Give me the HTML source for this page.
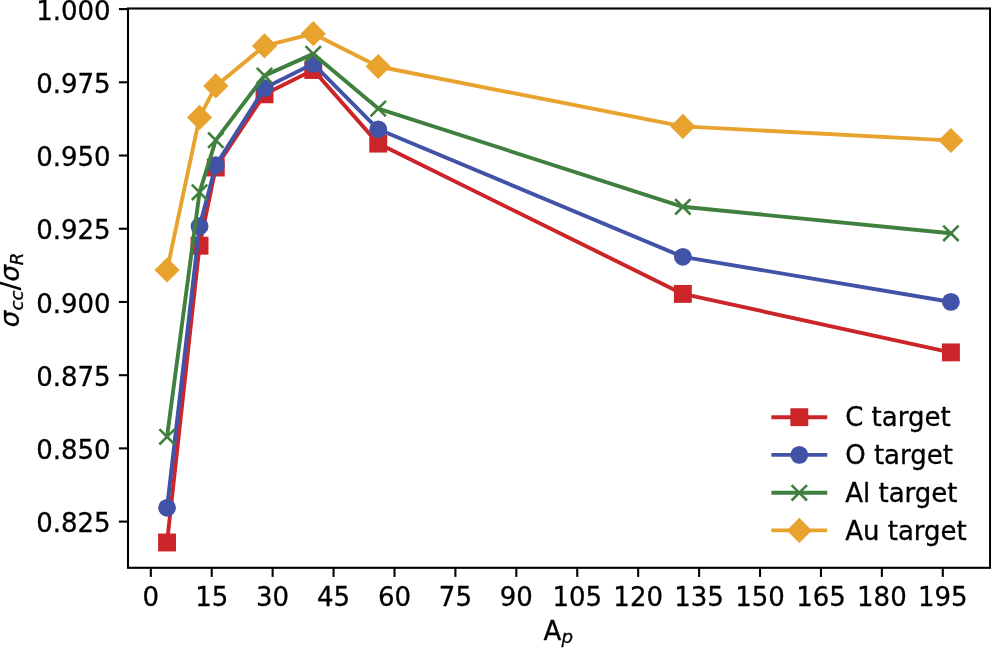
<!DOCTYPE html>
<html lang="en"><head><meta charset="utf-8"><title>sigma_cc / sigma_R vs A_p</title>
<style>html,body{margin:0;padding:0;background:#fff;overflow:hidden;}svg{display:block;}text{font-family:"DejaVu Sans", "Liberation Sans", sans-serif;fill:#000;stroke:#000;stroke-width:0.3px;}</style></head><body>
<svg width="991" height="648" viewBox="0 0 991 648">
<rect x="0" y="0" width="991" height="648" fill="#ffffff"/>
<defs><clipPath id="ax"><rect x="128.0" y="8.5" width="862.1" height="559.3"/></clipPath></defs>
<g clip-path="url(#ax)">
<polyline points="167.05,542.50 199.54,245.70 215.78,167.50 264.52,94.30 313.26,70.00 378.24,143.60 682.86,293.90 950.92,352.40" fill="none" stroke="#cc2529" stroke-width="3.9" stroke-linejoin="round" stroke-linecap="square"/>
<rect x="158.10" y="533.55" width="17.9" height="17.9" fill="#cc2529"/>
<rect x="190.59" y="236.75" width="17.9" height="17.9" fill="#cc2529"/>
<rect x="206.83" y="158.55" width="17.9" height="17.9" fill="#cc2529"/>
<rect x="255.57" y="85.35" width="17.9" height="17.9" fill="#cc2529"/>
<rect x="304.31" y="61.05" width="17.9" height="17.9" fill="#cc2529"/>
<rect x="369.29" y="134.65" width="17.9" height="17.9" fill="#cc2529"/>
<rect x="673.91" y="284.95" width="17.9" height="17.9" fill="#cc2529"/>
<rect x="941.97" y="343.45" width="17.9" height="17.9" fill="#cc2529"/>
<polyline points="167.05,507.80 199.54,226.20 215.78,165.20 264.52,88.10 313.26,63.80 378.24,129.30 682.86,256.80 950.92,301.90" fill="none" stroke="#4253a7" stroke-width="3.9" stroke-linejoin="round" stroke-linecap="square"/>
<circle cx="167.05" cy="507.80" r="8.9" fill="#4253a7"/>
<circle cx="199.54" cy="226.20" r="8.9" fill="#4253a7"/>
<circle cx="215.78" cy="165.20" r="8.9" fill="#4253a7"/>
<circle cx="264.52" cy="88.10" r="8.9" fill="#4253a7"/>
<circle cx="313.26" cy="63.80" r="8.9" fill="#4253a7"/>
<circle cx="378.24" cy="129.30" r="8.9" fill="#4253a7"/>
<circle cx="682.86" cy="256.80" r="8.9" fill="#4253a7"/>
<circle cx="950.92" cy="301.90" r="8.9" fill="#4253a7"/>
<polyline points="167.05,436.80 199.54,192.30 215.78,140.20 264.52,75.60 313.26,53.90 378.24,108.60 682.86,206.80 950.92,233.30" fill="none" stroke="#40803f" stroke-width="3.9" stroke-linejoin="round" stroke-linecap="square"/>
<path d="M159.35 429.10L174.75 444.50M159.35 444.50L174.75 429.10" stroke="#40803f" stroke-width="2.6" fill="none"/>
<path d="M191.84 184.60L207.24 200.00M191.84 200.00L207.24 184.60" stroke="#40803f" stroke-width="2.6" fill="none"/>
<path d="M208.08 132.50L223.48 147.90M208.08 147.90L223.48 132.50" stroke="#40803f" stroke-width="2.6" fill="none"/>
<path d="M256.82 67.90L272.22 83.30M256.82 83.30L272.22 67.90" stroke="#40803f" stroke-width="2.6" fill="none"/>
<path d="M305.56 46.20L320.96 61.60M305.56 61.60L320.96 46.20" stroke="#40803f" stroke-width="2.6" fill="none"/>
<path d="M370.54 100.90L385.94 116.30M370.54 116.30L385.94 100.90" stroke="#40803f" stroke-width="2.6" fill="none"/>
<path d="M675.16 199.10L690.56 214.50M675.16 214.50L690.56 199.10" stroke="#40803f" stroke-width="2.6" fill="none"/>
<path d="M943.22 225.60L958.62 241.00M943.22 241.00L958.62 225.60" stroke="#40803f" stroke-width="2.6" fill="none"/>
<polyline points="167.05,270.00 199.54,117.40 215.78,85.90 264.52,45.90 313.26,33.70 378.24,66.50 682.86,126.40 950.92,140.50" fill="none" stroke="#e8a22e" stroke-width="3.9" stroke-linejoin="round" stroke-linecap="square"/>
<path d="M167.05 257.40L179.65 270.00L167.05 282.60L154.45 270.00Z" fill="#e8a22e"/>
<path d="M199.54 104.80L212.14 117.40L199.54 130.00L186.94 117.40Z" fill="#e8a22e"/>
<path d="M215.78 73.30L228.38 85.90L215.78 98.50L203.18 85.90Z" fill="#e8a22e"/>
<path d="M264.52 33.30L277.12 45.90L264.52 58.50L251.92 45.90Z" fill="#e8a22e"/>
<path d="M313.26 21.10L325.86 33.70L313.26 46.30L300.66 33.70Z" fill="#e8a22e"/>
<path d="M378.24 53.90L390.84 66.50L378.24 79.10L365.64 66.50Z" fill="#e8a22e"/>
<path d="M682.86 113.80L695.46 126.40L682.86 139.00L670.26 126.40Z" fill="#e8a22e"/>
<path d="M950.92 127.90L963.52 140.50L950.92 153.10L938.32 140.50Z" fill="#e8a22e"/>
</g>
<g stroke="#000" stroke-width="2.1" fill="none">
<line x1="150.80" y1="567.8" x2="150.80" y2="576.90"/>
<line x1="211.72" y1="567.8" x2="211.72" y2="576.90"/>
<line x1="272.64" y1="567.8" x2="272.64" y2="576.90"/>
<line x1="333.57" y1="567.8" x2="333.57" y2="576.90"/>
<line x1="394.49" y1="567.8" x2="394.49" y2="576.90"/>
<line x1="455.41" y1="567.8" x2="455.41" y2="576.90"/>
<line x1="516.34" y1="567.8" x2="516.34" y2="576.90"/>
<line x1="577.26" y1="567.8" x2="577.26" y2="576.90"/>
<line x1="638.18" y1="567.8" x2="638.18" y2="576.90"/>
<line x1="699.10" y1="567.8" x2="699.10" y2="576.90"/>
<line x1="760.02" y1="567.8" x2="760.02" y2="576.90"/>
<line x1="820.95" y1="567.8" x2="820.95" y2="576.90"/>
<line x1="881.87" y1="567.8" x2="881.87" y2="576.90"/>
<line x1="942.79" y1="567.8" x2="942.79" y2="576.90"/>
<line x1="128.0" y1="9.10" x2="118.90" y2="9.10"/>
<line x1="128.0" y1="82.31" x2="118.90" y2="82.31"/>
<line x1="128.0" y1="155.53" x2="118.90" y2="155.53"/>
<line x1="128.0" y1="228.74" x2="118.90" y2="228.74"/>
<line x1="128.0" y1="301.96" x2="118.90" y2="301.96"/>
<line x1="128.0" y1="375.17" x2="118.90" y2="375.17"/>
<line x1="128.0" y1="448.38" x2="118.90" y2="448.38"/>
<line x1="128.0" y1="521.60" x2="118.90" y2="521.60"/>
<rect x="128.0" y="8.5" width="862.1" height="559.3"/>
</g>
<g font-size="26.0px">
<text x="150.80" y="605.6" text-anchor="middle">0</text>
<text x="211.72" y="605.6" text-anchor="middle">15</text>
<text x="272.64" y="605.6" text-anchor="middle">30</text>
<text x="333.57" y="605.6" text-anchor="middle">45</text>
<text x="394.49" y="605.6" text-anchor="middle">60</text>
<text x="455.41" y="605.6" text-anchor="middle">75</text>
<text x="516.34" y="605.6" text-anchor="middle">90</text>
<text x="577.26" y="605.6" text-anchor="middle">105</text>
<text x="638.18" y="605.6" text-anchor="middle">120</text>
<text x="699.10" y="605.6" text-anchor="middle">135</text>
<text x="760.02" y="605.6" text-anchor="middle">150</text>
<text x="820.95" y="605.6" text-anchor="middle">165</text>
<text x="881.87" y="605.6" text-anchor="middle">180</text>
<text x="942.79" y="605.6" text-anchor="middle">195</text>
<text x="110.6" y="19.70" text-anchor="end">1.000</text>
<text x="110.6" y="92.91" text-anchor="end">0.975</text>
<text x="110.6" y="166.13" text-anchor="end">0.950</text>
<text x="110.6" y="239.34" text-anchor="end">0.925</text>
<text x="110.6" y="312.56" text-anchor="end">0.900</text>
<text x="110.6" y="385.77" text-anchor="end">0.875</text>
<text x="110.6" y="458.98" text-anchor="end">0.850</text>
<text x="110.6" y="532.20" text-anchor="end">0.825</text>
</g>
<text x="543.6" y="640.0" font-size="26.0px">A<tspan font-size="18.2px" font-style="italic" dy="3.4" dx="0">p</tspan></text>
<text transform="translate(19.2 327.2) rotate(-90)" font-size="26.0px" font-style="italic">σ<tspan font-size="18.2px" dy="3.3" dx="0.2">cc</tspan><tspan font-style="normal" dy="-3.3" dx="0.3">/</tspan>σ<tspan font-size="18.2px" dy="3.3" dx="-0.3">R</tspan></text>
<line x1="773.3" y1="417.2" x2="825.3" y2="417.2" stroke="#cc2529" stroke-width="3.9" stroke-linecap="square"/>
<rect x="790.35" y="408.25" width="17.9" height="17.9" fill="#cc2529"/>
<text x="845.2" y="426.30" font-size="26.0px">C target</text>
<line x1="773.3" y1="454.9" x2="825.3" y2="454.9" stroke="#4253a7" stroke-width="3.9" stroke-linecap="square"/>
<circle cx="799.30" cy="454.90" r="8.9" fill="#4253a7"/>
<text x="845.2" y="464.00" font-size="26.0px">O target</text>
<line x1="773.3" y1="492.8" x2="825.3" y2="492.8" stroke="#40803f" stroke-width="3.9" stroke-linecap="square"/>
<path d="M791.60 485.10L807.00 500.50M791.60 500.50L807.00 485.10" stroke="#40803f" stroke-width="2.6" fill="none"/>
<text x="845.2" y="501.90" font-size="26.0px">Al target</text>
<line x1="773.3" y1="530.4" x2="825.3" y2="530.4" stroke="#e8a22e" stroke-width="3.9" stroke-linecap="square"/>
<path d="M799.30 517.80L811.90 530.40L799.30 543.00L786.70 530.40Z" fill="#e8a22e"/>
<text x="845.2" y="539.50" font-size="26.0px">Au target</text>
</svg></body></html>
